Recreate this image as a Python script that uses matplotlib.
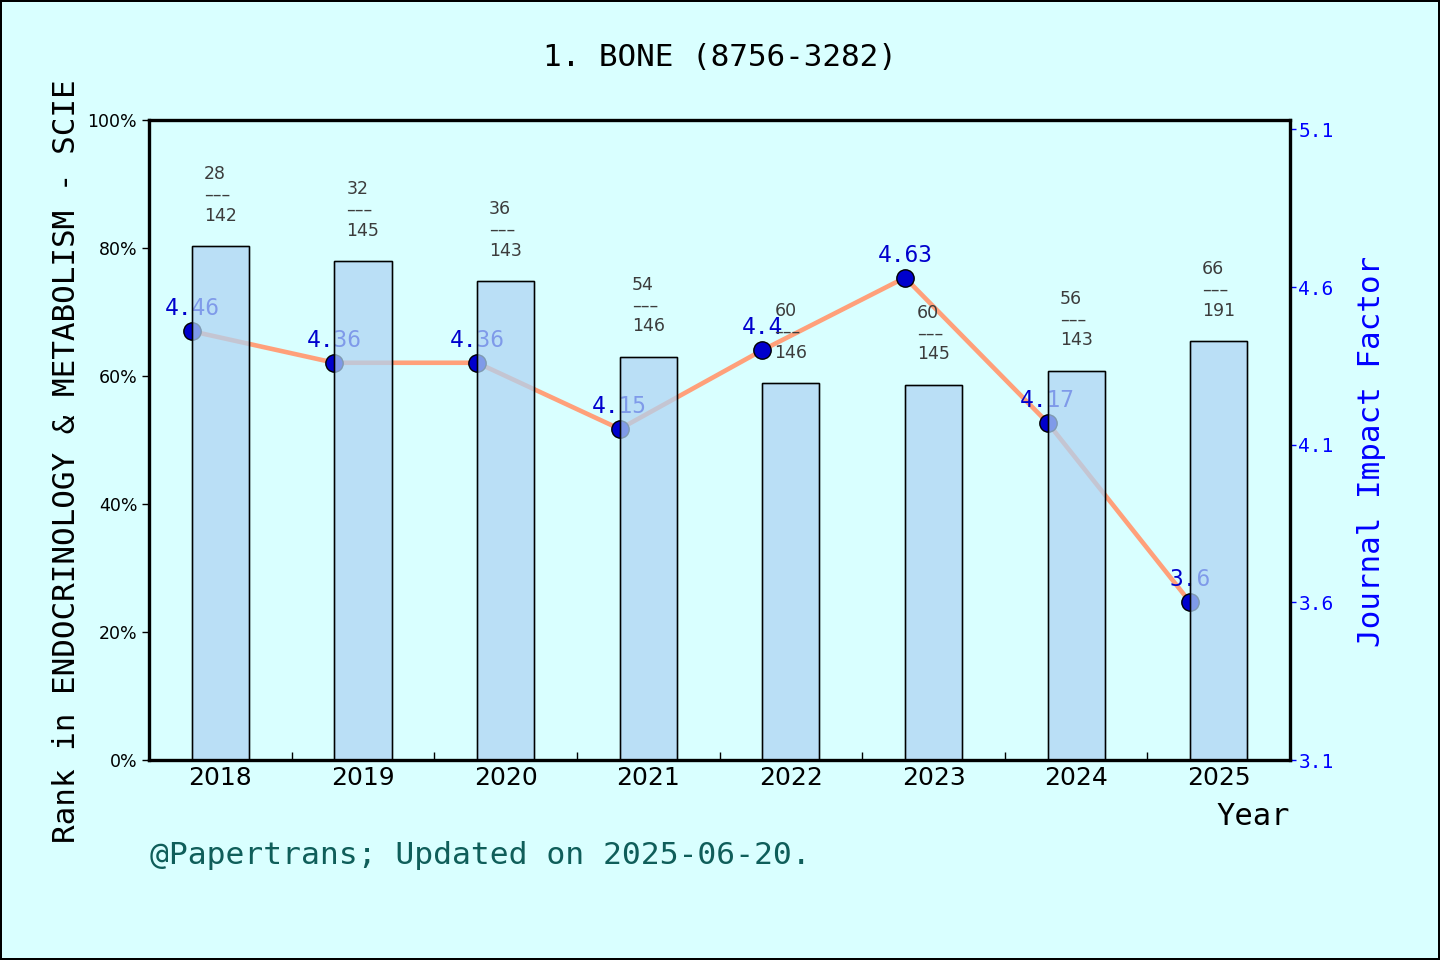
import numpy as np
import matplotlib
matplotlib.use('Agg')
import matplotlib.pyplot as plt
from matplotlib.ticker import FixedLocator, FuncFormatter

# data
years = [2018, 2019, 2020, 2021, 2022, 2023, 2024, 2025]
ranks = [28, 32, 36, 54, 60, 60, 56, 66]
totals = [142, 145, 143, 146, 146, 145, 143, 191]
impact = [4.46, 4.36, 4.36, 4.15, 4.4, 4.63, 4.17, 3.6]
if_ticks = [3.1, 3.6, 4.1, 4.6, 5.1]

mono = 'DejaVu Sans Mono'
bg = '#d9ffff'

x = np.array(years, dtype=float)
pct = 1 - np.array(ranks) / np.array(totals)

fig = plt.figure(figsize=(14.4, 9.6), dpi=100, facecolor=bg,
                 edgecolor='black', linewidth=1.5)
ax = fig.add_axes([0.1035, 0.2083, 0.7924, 0.6667])
ax2 = ax.twinx()

# line on the back axes, bars drawn over it
ax.set_zorder(ax2.get_zorder() + 1)
ax.patch.set_visible(False)
ax2.set_facecolor('white')

ax2.plot(x - 0.2, impact, color='#ffa07a', lw=3.3, zorder=2)
ax2.plot(x - 0.2, impact, 'o', color='#0000cd', mec='black', mew=1,
         ms=12.5, zorder=3)
for xi, v in zip(x, impact):
    ax2.annotate('%g' % v, (xi - 0.2, v), xytext=(0, 8),
                 textcoords='offset points', ha='center', va='bottom',
                 color='#0000cd', fontsize=16.5, family=mono)

ax.bar(x, pct, width=0.4, color=(175/255, 212/255, 244/255), alpha=0.73,
       edgecolor='black', linewidth=1, zorder=2)
ax.bar(x, pct, width=0.4, color='none', edgecolor='black', linewidth=1,
       zorder=3)
for xi, h, r, t in zip(x, pct, ranks, totals):
    ax.text(xi, h + 0.08, '%d\n\u2013\u2013\u2013\n%d' % (r, t), ha='center',
            va='center', multialignment='left', fontsize=12.5,
            color='#3c3c3c', linespacing=1.2, zorder=4)

ax.set_xlim(2017.5, 2025.5)
ax.set_ylim(0, 1)
ax2.set_ylim(3.1, 5.13)

ax.set_xticks(years)
ax.set_xticklabels([str(y) for y in years], fontsize=18)
ax.xaxis.set_minor_locator(FixedLocator(x[:-1] + 0.5))
ax.tick_params(axis='x', which='major', length=0, pad=4)
ax.tick_params(axis='x', which='minor', direction='in', length=6, width=1)

ax.set_yticks(np.arange(0, 1.01, 0.2))
ax.yaxis.set_major_formatter(FuncFormatter(lambda v, p: '%d%%' % round(v * 100)))
ax.tick_params(axis='y', labelsize=12.5, length=5, width=1)

ax2.set_yticks(if_ticks)
ax2.yaxis.set_major_formatter(FuncFormatter(lambda v, p: '%g' % round(v, 1)))
ax2.tick_params(axis='y', colors='blue', labelcolor='blue', labelsize=14,
                length=4, width=1, pad=2)
for lab in ax2.get_yticklabels():
    lab.set_family(mono)

for s in ax.spines.values():
    s.set_linewidth(2.4)
for s in ax2.spines.values():
    s.set_visible(False)

fig.text(67 / 1440, 1 - 461 / 960, 'Rank in ENDOCRINOLOGY & METABOLISM - SCIE',
         family=mono, fontsize=22.3, rotation=90, ha='center', va='center')
fig.text(1372 / 1440, 1 - 451 / 960, 'Journal Impact Factor', family=mono,
         fontsize=22.3, rotation=90, ha='center', va='center', color='blue')

fig.text(0.5, 0.94, '1. BONE (8756-3282)', family=mono, fontsize=22.3,
         ha='center', va='center')
fig.text(0.896, 0.149, 'Year', family=mono, fontsize=22, ha='right',
         va='center')
fig.text(0.104, 0.109, '@Papertrans; Updated on 2025-06-20.', family=mono,
         fontsize=22.6, ha='left', va='center', color='#0f5e5a')

fig.savefig('out.png', dpi=100, facecolor=bg, edgecolor='black')
